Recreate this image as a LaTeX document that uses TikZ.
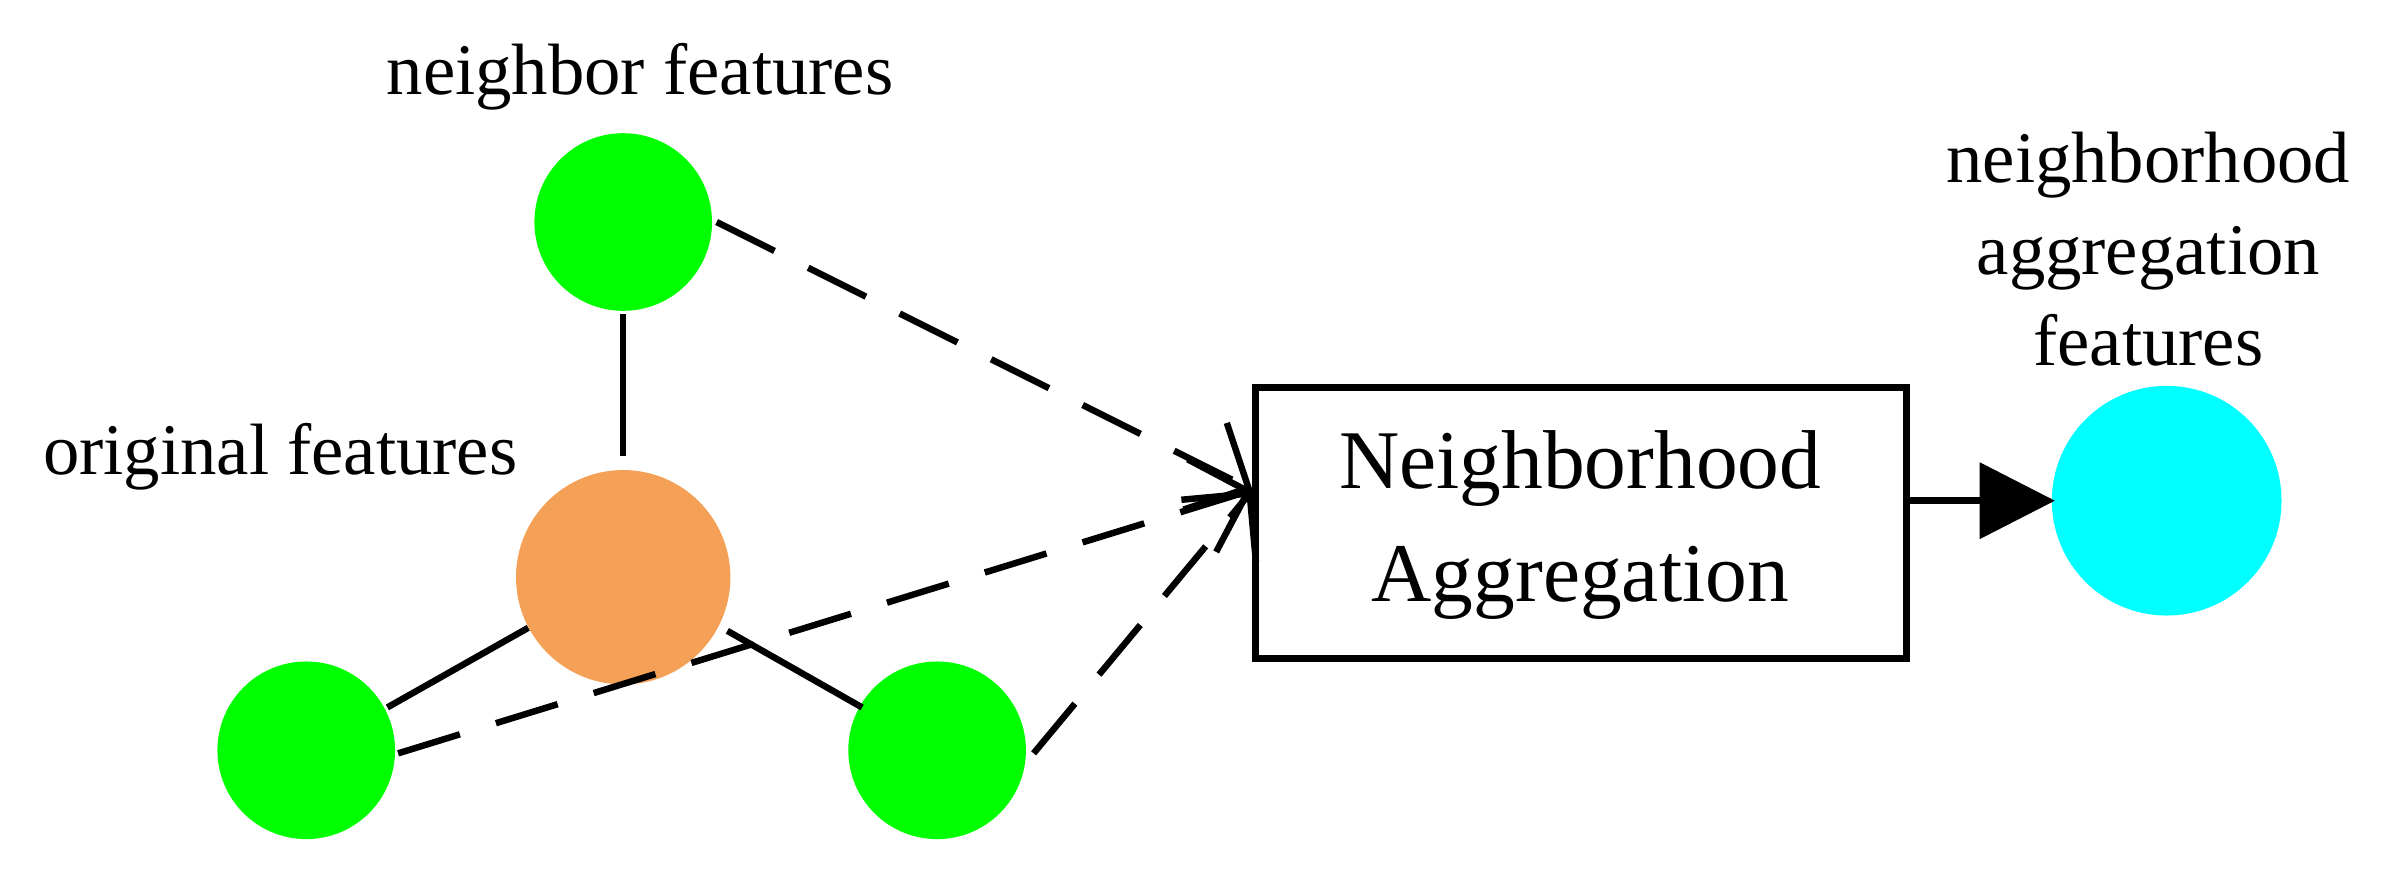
\documentclass[tikz,border=0pt]{standalone}
\usepackage{fontspec}
\setmainfont{Liberation Serif}
\usetikzlibrary{arrows.meta}
\definecolor{orng}{RGB}{244,160,87}
\definecolor{cyn}{RGB}{0,255,255}
\begin{document}
\begin{tikzpicture}[x=0.01cm,y=-0.01cm,
  ln/.style={line width=1.2pt},
  dsh/.style={line width=1.2pt,dash pattern=on 12pt off 7pt,-{Straight Barb[length=9pt,width=18pt]}},
  lbl/.style={font=\fontsize{13.5pt}{16pt}\selectfont,align=center}]
\useasboundingbox (0,0) rectangle (1568,574);
\fill[green] (407,145) circle (58);
\fill[green] (200,490) circle (58);
\fill[green] (612,490) circle (58);
\fill[cyn] (1415,327) circle (75);
\coordinate (t1) at (407,205); \coordinate (t2) at (407,298);
\coordinate (l1) at (253,462); \coordinate (l2) at (345,410);
\coordinate (r1) at (475,412); \coordinate (r2) at (563,462);
\draw[ln] (t1) -- (t2);
\draw[ln] (l1) -- (l2);
\draw[ln] (r1) -- (r2);
\fill[orng] (407,377) circle (70);
\draw[line width=1.2pt] (820,253) rectangle (1245,430);
\node[font=\fontsize{15.5pt}{21pt}\selectfont,align=center] (boxt) at (1032,343) {Neighborhood\\Aggregation};
\coordinate (a) at (818,320);
\coordinate (s1) at (468,145); \coordinate (s2) at (260,492); \coordinate (s3) at (675,492);
\draw[dsh] (s1) -- (a);
\draw[dsh] (s2) -- (a);
\draw[dsh] (s3) -- (a);
\coordinate (b1) at (1245,327); \coordinate (b2) at (1342,327);
\draw[ln,-{Triangle[length=14pt,width=14pt]}] (b1) -- (b2);
\node[lbl] (n1) at (418,50) {neighbor features};
\node[lbl] (n2) at (183,298) {original features};
\node[lbl,text width=4cm] (n3) at (1403,163) {neighborhood\\[1pt]aggregation\\[1pt]features};
\end{tikzpicture}
\end{document}
